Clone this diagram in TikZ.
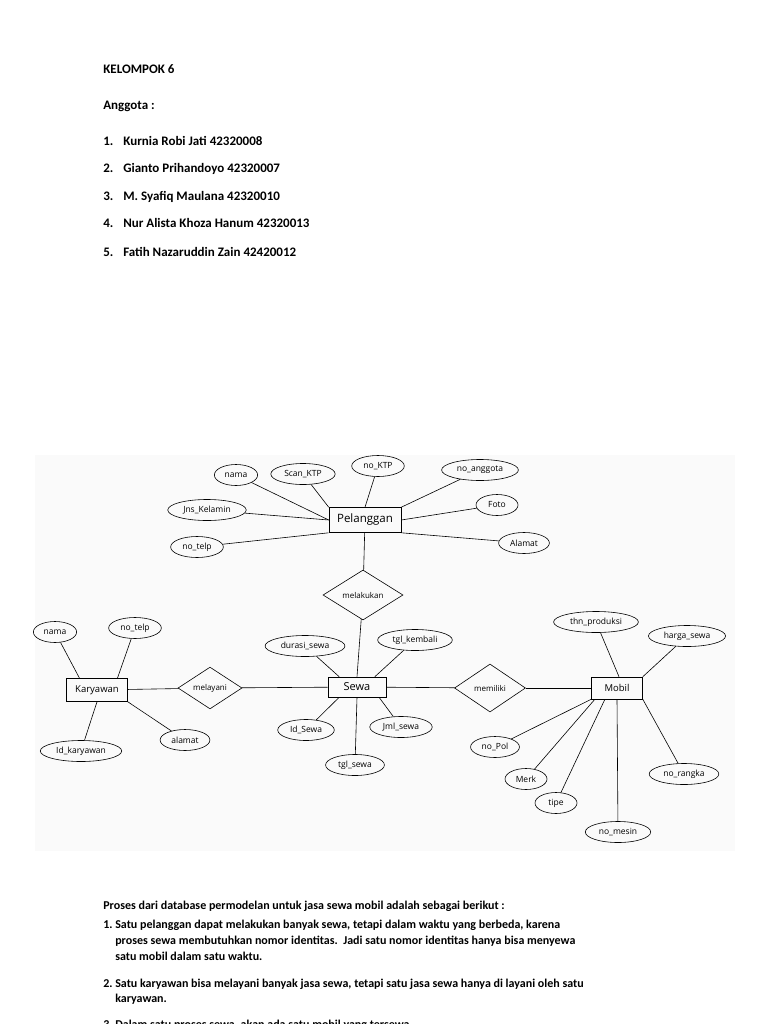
\documentclass[tikz,border=0pt]{standalone}
\usepackage{fontspec}
\setmainfont{Carlito}
\newfontfamily\handfont{Open Sans}
\usetikzlibrary{shapes.geometric,positioning}

\begin{document}
\begin{tikzpicture}[
  x=1pt, y=-1pt,
  line width=0.6pt,
  entity/.style={draw, rectangle, inner sep=2pt, font=\handfont\fontsize{9.5}{11}\selectfont},
  attrib/.style={draw, ellipse, inner xsep=4pt, inner ysep=1pt, minimum width=42pt, minimum height=21pt, font=\handfont\fontsize{8.5}{10}\selectfont},
  relation/.style={draw, diamond, inner sep=0pt, font=\handfont\fontsize{8}{9}\selectfont},
  txt/.style={anchor=base west, inner sep=0pt, font=\bfseries\fontsize{13}{15}\selectfont},
  body/.style={anchor=base west, inner sep=0pt, font=\bfseries\fontsize{12}{14}\selectfont}
]
\useasboundingbox (0,0) rectangle (768,1024);
\clip (0,0) rectangle (768,1024);

\node[txt] (title) at (103,74) {KELOMPOK 6};
\node[txt] (anggota) at (103,110) {Anggota :};
\node[txt] (m1) at (103,146) {\makebox[20pt][l]{1.}Kurnia Robi Jati 42320008};
\node[txt] (m2) at (103,173) {\makebox[20pt][l]{2.}Gianto Prihandoyo 42320007};
\node[txt] (m3) at (103,201) {\makebox[20pt][l]{3.}M. Syafiq Maulana 42320010};
\node[txt] (m4) at (103,228) {\makebox[20pt][l]{4.}Nur Alista Khoza Hanum 42320013};
\node[txt] (m5) at (103,256) {\makebox[20pt][l]{5.}Fatih Nazaruddin Zain 42420012};

\fill[black!2] (35,455) rectangle (735,851);

\node[entity, minimum width=72pt, minimum height=25pt, font=\handfont\fontsize{11.5}{13}\selectfont] (pelanggan) at (365,520) {Pelanggan};
\node[attrib] (pnama) at (236,475) {nama};
\node[attrib] (scanktp) at (303,474) {Scan\_KTP};
\node[attrib] (noktp) at (378,466) {no\_KTP};
\node[attrib] (noanggota) at (480,470) {no\_anggota};
\node[attrib] (foto) at (497,505) {Foto};
\node[attrib] (palamat) at (524,543) {Alamat};
\node[attrib] (jnskelamin) at (207,510) {Jns\_Kelamin};
\node[attrib] (ptelp) at (197,547) {no\_telp};
\node[relation, minimum width=80pt, minimum height=50pt] (melakukan) at (363,595) {melakukan};

\node[entity, minimum width=58pt, minimum height=20pt, font=\handfont\fontsize{11}{12}\selectfont] (sewa) at (357,687) {Sewa};
\node[attrib] (durasi) at (305,646) {durasi\_sewa};
\node[attrib] (tglkembali) at (415,640) {tgl\_kembali};
\node[attrib] (idsewa) at (306,730) {Id\_Sewa};
\node[attrib] (jmlsewa) at (401,727) {Jml\_sewa};
\node[attrib] (tglsewa) at (355,765) {tgl\_sewa};

\node[entity, minimum width=61pt, minimum height=23pt] (karyawan) at (97,690) {Karyawan};
\node[attrib] (knama) at (55,632) {nama};
\node[attrib] (ktelp) at (135,628) {no\_telp};
\node[attrib] (idkaryawan) at (81,751) {Id\_karyawan};
\node[attrib] (kalamat) at (185,740) {alamat};
\node[relation, minimum width=64pt, minimum height=41pt] (melayani) at (210,688) {melayani};

\node[relation, minimum width=71pt, minimum height=48pt] (memiliki) at (490,688) {memiliki};
\node[entity, minimum width=51pt, minimum height=22pt] (mobil) at (617,688) {Mobil};
\node[attrib] (thnproduksi) at (596,622) {thn\_produksi};
\node[attrib] (hargasewa) at (687,636) {harga\_sewa};
\node[attrib] (nopol) at (495,747) {no\_Pol};
\node[attrib] (merk) at (526,779) {Merk};
\node[attrib] (tipe) at (556,803) {tipe};
\node[attrib] (nomesin) at (618,832) {no\_mesin};
\node[attrib] (norangka) at (684,774) {no\_rangka};

\draw (pnama) -- (pelanggan.west);
\draw (scanktp) -- (pelanggan.north west);
\draw (noktp) -- (pelanggan.north);
\draw (noanggota) -- (pelanggan.north east);
\draw (foto) -- (pelanggan.east);
\draw (palamat) -- (pelanggan.south east);
\draw (jnskelamin) -- (pelanggan.west);
\draw (ptelp) -- (pelanggan.south west);
\draw (pelanggan) -- (melakukan);
\draw (melakukan) -- (sewa.north);

\draw (durasi) -- (sewa.150);
\draw (tglkembali) -- (sewa.30);
\draw (idsewa) -- (sewa.210);
\draw (jmlsewa) -- (sewa.-25);
\draw (tglsewa) -- (sewa.south);

\draw (knama) -- (karyawan.146);
\draw (ktelp) -- (karyawan.30);
\draw (idkaryawan) -- (karyawan.south);
\draw (kalamat) -- (karyawan.south east);
\draw (karyawan) -- (melayani);
\draw (melayani) -- (sewa);

\draw (sewa) -- (memiliki);
\draw (memiliki) -- (mobil);
\draw (thnproduksi) -- (mobil.80);
\draw (hargasewa) -- (mobil.north east);
\draw (nopol) -- (mobil.south west);
\draw (merk) -- (mobil.-153);
\draw (tipe) -- (mobil.-137);
\draw (nomesin) -- (mobil.south);
\draw (norangka) -- (mobil.south east);

\node[body] (proses) at (103,909) {Proses dari database permodelan untuk jasa sewa mobil adalah sebagai berikut :};
\node[body] (p1a) at (103,928) {\makebox[12pt][l]{1.}Satu pelanggan dapat melakukan banyak sewa, tetapi dalam waktu yang berbeda, karena};
\node[body] (p1b) at (115,944) {proses sewa membutuhkan nomor identitas.\ \ Jadi satu nomor identitas hanya bisa menyewa};
\node[body] (p1c) at (115,960) {satu mobil dalam satu waktu.};
\node[body] (p2a) at (103,987) {\makebox[12pt][l]{2.}Satu karyawan bisa melayani banyak jasa sewa, tetapi satu jasa sewa hanya di layani oleh satu};
\node[body] (p2b) at (115,1002) {karyawan.};
\node[body] (p3) at (103,1028) {\makebox[12pt][l]{3.}Dalam satu proses sewa, akan ada satu mobil yang tersewa.};
\end{tikzpicture}
\end{document}
